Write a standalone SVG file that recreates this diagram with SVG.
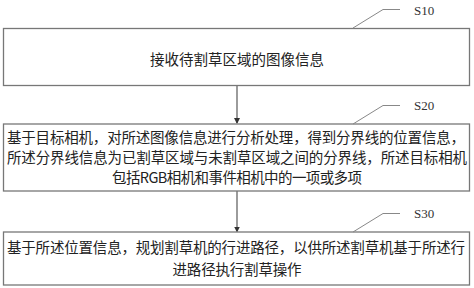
<svg xmlns="http://www.w3.org/2000/svg" width="474" height="288" viewBox="0 0 474 288">
<defs>
<marker id="ah" markerWidth="6" markerHeight="6" refX="5" refY="3" orient="auto" markerUnits="userSpaceOnUse">
<path d="M0,0 L6,3 L0,6 Z" fill="#333"/>
</marker>
<style>
.box{fill:#fff;stroke:#777;stroke-width:1.3}
.t{font-family:"Noto Sans CJK SC","Noto Sans CJK JP",sans-serif;font-size:14.5px;fill:#222}
.lbl{font-family:"Liberation Serif",serif;font-size:13px;fill:#333}
.ld{fill:none;stroke:#888;stroke-width:1}
.c{fill:none;stroke:#666;stroke-width:1.3}
</style>
</defs>
<rect width="474" height="288" fill="#fff"/>
<g id="connectors">
<line class="c" x1="237" y1="85.5" x2="237" y2="123" marker-end="url(#ah)"/>
<line class="c" x1="237" y1="191" x2="237" y2="231.5" marker-end="url(#ah)"/>
</g>
<g id="S10">
<rect class="box" x="3.5" y="28.5" width="466" height="57"/>
<text class="t" x="237" y="65" text-anchor="middle" textLength="174">接收待割草区域的图像信息</text>
<polyline class="ld" points="353,28 383,9.5 400,9.5"/>
<text class="lbl" x="414" y="15">S10</text>
</g>
<g id="S20">
<rect class="box" x="3.5" y="124" width="466" height="67"/>
<text class="t" x="7" y="143" textLength="458">基于目标相机，对所述图像信息进行分析处理，得到分界线的位置信息，</text>
<text class="t" x="7" y="163" textLength="460">所述分界线信息为已割草区域与未割草区域之间的分界线，所述目标相机</text>
<text class="t" x="237" y="183" text-anchor="middle" textLength="250">包括RGB相机和事件相机中的一项或多项</text>
<polyline class="ld" points="353,124 383,105.5 400,105.5"/>
<text class="lbl" x="414" y="110">S20</text>
</g>
<g id="S30">
<rect class="box" x="3.5" y="232" width="466" height="53"/>
<text class="t" x="7" y="253" textLength="458">基于所述位置信息，规划割草机的行进路径，以供所述割草机基于所述行</text>
<text class="t" x="237" y="275" text-anchor="middle" textLength="129">进路径执行割草操作</text>
<polyline class="ld" points="353,232 383,213.5 400,213.5"/>
<text class="lbl" x="414" y="218">S30</text>
</g>
</svg>
